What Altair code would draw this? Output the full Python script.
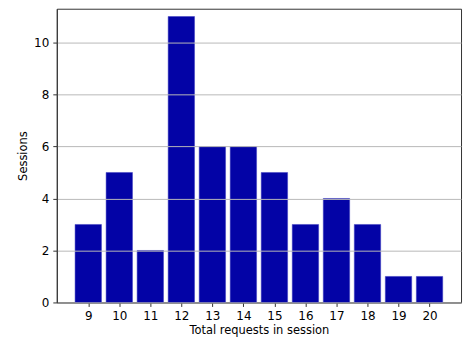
import altair as alt
import pandas as pd

requests = [9, 10, 11, 12, 13, 14, 15, 16, 17, 18, 19, 20]
sessions = [3, 5, 2, 11, 6, 6, 5, 3, 4, 3, 1, 1]
y_ticks = [0, 2, 4, 6, 8, 10]

df = pd.DataFrame({"requests": requests, "sessions": sessions})

FONT = "DejaVu Sans"

chart = (
    alt.Chart(df)
    .transform_calculate(x0="datum.requests - 0.425", x1="datum.requests + 0.425")
    .mark_bar(color="#0303a6", stroke="#3a3ac0", strokeWidth=0.5)
    .encode(
        x=alt.X(
            "x0:Q",
            scale=alt.Scale(domain=[7.985, 21.015], nice=False, zero=False),
            axis=alt.Axis(
                values=requests,
                title="Total requests in session",
                grid=False,
                format="d",
                labelPadding=4,
                titlePadding=3,
            ),
        ),
        x2="x1:Q",
        y=alt.Y(
            "sessions:Q",
            scale=alt.Scale(domain=[0, 11.3], nice=False),
            axis=alt.Axis(
                values=y_ticks,
                title="Sessions",
                grid=True,
                zindex=1,
                labelPadding=4,
                titlePadding=5,
            ),
        ),
        y2=alt.datum(0),
    )
    .properties(
        width=406,
        height=295,
        padding={"left": 9, "top": 0, "right": 5, "bottom": 5},
    )
    .configure_view(stroke="#333333", strokeWidth=1)
    .configure_axis(
        labelFont=FONT,
        titleFont=FONT,
        labelFontSize=12,
        titleFontSize=11.5,
        labelColor="#000000",
        titleColor="#000000",
        titleFontWeight="normal",
        domainColor="#333333",
        tickColor="#333333",
        tickSize=4,
        gridColor="#b8b8b8",
        gridWidth=1,
    )
)

chart.save("out.html", embed_options={"renderer": "svg", "actions": False})
